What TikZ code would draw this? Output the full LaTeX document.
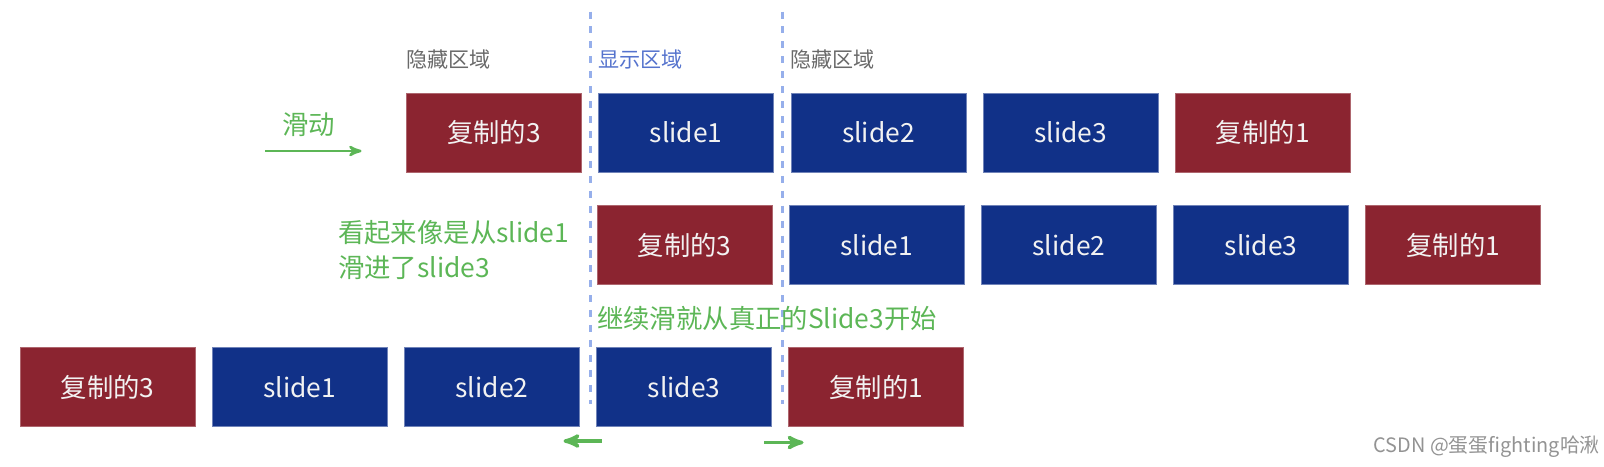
\documentclass[tikz,border=0pt]{standalone}
\usepackage{fontspec}
\setmainfont{Noto Sans CJK SC}
\usepackage{tikz}
\usetikzlibrary{arrows, positioning}

\definecolor{copyred}{RGB}{139,36,48}
\definecolor{slideblue}{RGB}{17,49,136}
\definecolor{hintgreen}{RGB}{92,182,86}
\definecolor{lineblue}{RGB}{150,175,235}
\definecolor{zoneblue}{RGB}{85,115,205}
\definecolor{zonegray}{RGB}{105,105,105}

\begin{document}
\begin{tikzpicture}[
  node distance=.33cm,
  box/.style={minimum width=3.5cm, minimum height=1.58cm, inner sep=0pt, text=white!90!gray, font=\fontsize{15}{18}\selectfont},
  copy/.style={box, fill=copyred, draw=copyred!70!white, line width=.4pt},
  slide/.style={box, fill=slideblue, draw=slideblue!60!white, line width=.4pt},
  zone/.style={anchor=west, inner sep=0pt, font=\fontsize{12}{14}\selectfont},
  hint/.style={anchor=west, inner sep=0pt, text=hintgreen, font=\fontsize{15}{20.4}\selectfont},
  thick]

  \useasboundingbox (0,0) rectangle (32.08,-9.32);

  % first row
  \node[copy] (r1c3) at (9.88,-2.65) {复制的3};
  \node[slide, right=of r1c3] (r1s1) {slide1};
  \node[slide, right=of r1s1] (r1s2) {slide2};
  \node[slide, right=of r1s2] (r1s3) {slide3};
  \node[copy, right=of r1s3] (r1c1) {复制的1};

  % second row
  \node[copy] (r2c3) at (13.69,-4.90) {复制的3};
  \node[slide, right=of r2c3] (r2s1) {slide1};
  \node[slide, right=of r2s1] (r2s2) {slide2};
  \node[slide, right=of r2s2] (r2s3) {slide3};
  \node[copy, right=of r2s3] (r2c1) {复制的1};

  % third row
  \node[copy] (r3c3) at (2.15,-7.74) {复制的3};
  \node[slide, right=of r3c3] (r3s1) {slide1};
  \node[slide, right=of r3s1] (r3s2) {slide2};
  \node[slide, right=of r3s2] (r3s3) {slide3};
  \node[copy, right=of r3s3] (r3c1) {复制的1};

  \node[zone, text=zonegray] (hideL) at (8.12,-1.19) {隐藏区域};
  \node[zone, text=zoneblue] (show) at (11.96,-1.19) {显示区域};
  \node[zone, text=zonegray] (hideR) at (15.80,-1.19) {隐藏区域};

  \coordinate (Lt) at (11.81,-0.23);
  \coordinate (Lb) at (11.81,-8.08);
  \coordinate (Rt) at (15.65,-0.23);
  \coordinate (Rb) at (15.65,-8.08);
  \draw[lineblue, line width=1.2pt, dash pattern=on 4pt off 4.5pt] (Lt) -- (Lb);
  \draw[lineblue, line width=1.2pt, dash pattern=on 4pt off 4.5pt] (Rt) -- (Rb);

  \node[hint] (move) at (5.63,-2.50) {滑动};
  \coordinate (m0) at (5.30,-3.02);
  \coordinate (m1) at (7.23,-3.02);
  \path[->, >=stealth', hintgreen, line width=1.4pt]
    (m0) edge (m1);

  \node[hint, align=left] (seems) at (6.75,-5.00) {看起来像是从slide1\\滑进了slide3};
  \node[hint] (goon) at (11.93,-6.36) {继续滑就从真正的Slide3开始};

  \coordinate (a0) at (12.03,-8.82);
  \coordinate (a1) at (11.27,-8.82);
  \coordinate (b0) at (15.28,-8.85);
  \coordinate (b1) at (16.07,-8.85);
  \path[->, >=stealth', hintgreen, line width=2pt]
    (a0) edge (a1)
    (b0) edge (b1);

  \node[anchor=west, inner sep=0pt, text=gray!85, font=\fontsize{11.3}{13}\selectfont] (mark) at (27.46,-8.94) {CSDN @蛋蛋fighting哈湫};
\end{tikzpicture}
\end{document}
